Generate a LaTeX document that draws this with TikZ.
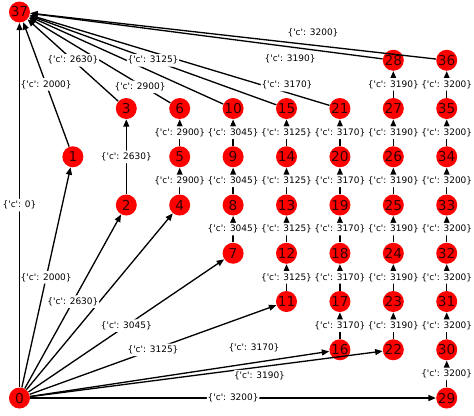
\documentclass[tikz,border=0pt]{standalone}
\usepackage{fontspec}
\setmainfont{DejaVu Sans}
\usetikzlibrary{arrows.meta}

\newcommand{\cval}[1]{\{\textquotesingle c\textquotesingle: #1\}}

\begin{document}
\begin{tikzpicture}[x=1.068cm,y=0.965cm,>={Triangle[length=4.2pt,width=3.4pt]},
  vertex/.style={circle,fill=red,minimum size=0.42cm,inner sep=0pt,
    text=black!80!red,font=\fontsize{7.8}{8}\selectfont},
  elabel/.style={fill=white,rounded corners=1pt,inner xsep=0.4pt,inner ysep=1.2pt,
    font=\fontsize{5.1}{6}\selectfont},
  edge/.style={->,line width=0.75pt}]
  \useasboundingbox (-0.365,-0.352) rectangle (8.511,8.249);

  % source and sink
  \node[vertex] (n0) at (0,0) {0};
  \node[vertex] (n37) at (0,8) {37};
  % columns of intermediate nodes
  \foreach \n/\c/\r in {1/1/5, 2/2/4, 3/2/6, 4/3/4, 5/3/5, 6/3/6,
      7/4/3, 8/4/4, 9/4/5, 10/4/6, 11/5/2, 12/5/3, 13/5/4, 14/5/5, 15/5/6,
      16/6/1, 17/6/2, 18/6/3, 19/6/4, 20/6/5, 21/6/6,
      22/7/1, 23/7/2, 24/7/3, 25/7/4, 26/7/5, 27/7/6, 28/7/7,
      29/8/0, 30/8/1, 31/8/2, 32/8/3, 33/8/4, 34/8/5, 35/8/6, 36/8/7}
    \node[vertex] (n\n) at (\c,\r) {\n};

  % edges up the columns
  \foreach \first/\last in {2/3, 4/6, 7/10, 11/15, 16/21, 22/28, 29/36} {
    \pgfmathtruncatemacro{\stop}{\last-1}
    \foreach \a in {\first,...,\stop} {
      \pgfmathtruncatemacro{\b}{\a+1}
      \draw[edge] (n\a) -- (n\b);
    }
  }
  % edges out of 0 and into 37
  \foreach \t in {1,2,4,7,11,16,22,29,37}
    \draw[edge] (n0) -- (n\t);
  \foreach \s in {1,3,6,10,15,21,28,36}
    \draw[edge] (n\s) -- (n37);

  % labels on the column edges
  \foreach \first/\last/\val in {2/3/2630, 4/6/2900, 7/10/3045, 11/15/3125,
      16/21/3170, 22/28/3190, 29/36/3200} {
    \pgfmathtruncatemacro{\stop}{\last-1}
    \foreach \a in {\first,...,\stop} {
      \pgfmathtruncatemacro{\b}{\a+1}
      \path (n\a) -- node[elabel] {\cval{\val}} (n\b);
    }
  }
  % labels on the fan edges
  \foreach \s/\t/\val in {0/37/0, 0/1/2000, 0/2/2630, 0/7/3045, 0/11/3125,
      0/29/3200, 1/37/2000, 3/37/2630, 15/37/3125}
    \path (n\s) -- node[elabel] {\cval{\val}} (n\t);
  \node[elabel] (c6) at (2.257,6.446) {\cval{2900}};
  \node[elabel] (c21) at (5.009,6.487) {\cval{3170}};
  \node[elabel] (c28) at (5.066,7.026) {\cval{3190}};
  \node[elabel] (c36) at (5.496,7.565) {\cval{3200}};
  \node[elabel] (c16) at (4.391,1.036) {\cval{3170}};
  \node[elabel] (c22) at (4.494,0.456) {\cval{3190}};
\end{tikzpicture}
\end{document}
